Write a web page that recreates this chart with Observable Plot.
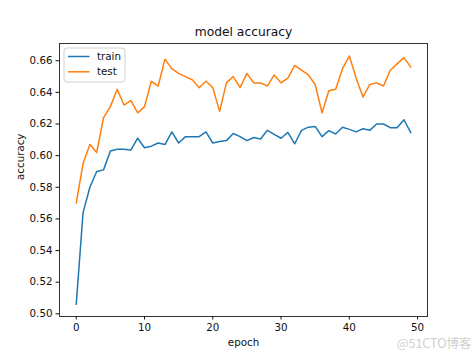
<!DOCTYPE html>
<html><head><meta charset="utf-8">
<script src="https://cdn.jsdelivr.net/npm/d3@7"></script>
<script src="https://cdn.jsdelivr.net/npm/@observablehq/plot@0.6"></script>
<style>
body{margin:0;background:#fff;}
#chart{width:474px;height:355px;}
</style></head><body><div id="chart"></div>
<script>
const epochs = [0,1,2,3,4,5,6,7,8,9,10,11,12,13,14,15,16,17,18,19,20,21,22,23,24,25,26,27,28,29,30,31,32,33,34,35,36,37,38,39,40,41,42,43,44,45,46,47,48,49];
const trainAcc = [0.506,0.564,0.580,0.590,0.591,0.603,0.604,0.604,0.6035,0.611,0.605,0.606,0.608,0.607,0.615,0.608,0.612,0.612,0.612,0.615,0.608,0.609,0.6095,0.614,0.612,0.6095,0.6115,0.6105,0.616,0.6135,0.611,0.6147,0.6075,0.616,0.618,0.6185,0.612,0.6158,0.6137,0.618,0.6166,0.615,0.617,0.616,0.620,0.620,0.6177,0.6177,0.6227,0.6145];
const testAcc = [0.570,0.595,0.607,0.602,0.624,0.631,0.642,0.632,0.635,0.627,0.631,0.647,0.644,0.661,0.655,0.652,0.650,0.648,0.643,0.647,0.643,0.628,0.646,0.650,0.643,0.652,0.646,0.646,0.644,0.651,0.646,0.649,0.657,0.654,0.651,0.645,0.627,0.641,0.642,0.655,0.663,0.649,0.637,0.645,0.646,0.644,0.654,0.658,0.662,0.656];
const seriesNames = ["train", "test"];
const seriesColors = ["#1f77b4", "#ff7f0e"];
const xTicks = [0,10,20,30,40,50];
const yTicks = [0.50,0.52,0.54,0.56,0.58,0.60,0.62,0.64,0.66];
const titleText = "model accuracy";
const xLabel = "epoch";
const yLabel = "accuracy";
const watermark = "@51CTO博客";

const data = epochs.flatMap((e, i) => [
  {epoch: e, acc: trainAcc[i], series: seriesNames[0]},
  {epoch: e, acc: testAcc[i], series: seriesNames[1]}
]);

const W = 474, H = 355, mL = 59, mR = 47, mT = 43, mB = 39;
const fontFam = "DejaVu Sans, sans-serif";

const plot = Plot.plot({
  width: W, height: H,
  marginLeft: mL, marginRight: mR, marginTop: mT, marginBottom: mB,
  style: {fontFamily: fontFam, fontSize: "10.3px", color: "#111", background: "#fff"},
  x: {domain: [-2.45, 51.45]},
  y: {domain: [0.4983, 0.6709]},
  color: {domain: seriesNames, range: seriesColors},
  marks: [
    Plot.line(data, {x: "epoch", y: "acc", stroke: "series", z: "series", strokeWidth: 1.5}),
    Plot.frame({stroke: "#333", strokeWidth: 1}),
    Plot.axisX({ticks: xTicks, tickSize: 3.5, tickPadding: 3.5, label: null}),
    Plot.axisY({ticks: yTicks, tickFormat: ".2f", tickSize: 3.5, tickPadding: 3.5, label: null}),
    Plot.text([titleText], {frameAnchor: "top", dy: -11, fontSize: 12.3, lineAnchor: "middle"}),
    Plot.text([xLabel], {frameAnchor: "bottom", dy: 26, lineAnchor: "middle"}),
    Plot.text([yLabel], {frameAnchor: "left", dx: -39, rotate: -90, lineAnchor: "middle"}),
    Plot.text([watermark], {frameAnchor: "bottom-right", dx: 44, dy: 27.5, textAnchor: "end", lineAnchor: "middle", fill: "#cfcfcf", fontSize: 12.5, fontFamily: "Noto Sans CJK SC, DejaVu Sans, sans-serif"})
  ]
});

// legend (upper left, matplotlib style)
const svg = d3.select(plot);
const lg = svg.append("g").attr("transform", `translate(${mL + 5},${mT + 5})`);
lg.append("rect").attr("x", 0).attr("y", 0).attr("width", 61).attr("height", 34)
  .attr("rx", 3).attr("fill", "#fff").attr("fill-opacity", 0.8).attr("stroke", "#d0d0d0");
seriesNames.forEach((name, i) => {
  const yy = 8.5 + i * 15.3;
  lg.append("line").attr("x1", 4).attr("x2", 25.5).attr("y1", yy).attr("y2", yy)
    .attr("stroke", seriesColors[i]).attr("stroke-width", 1.5);
  lg.append("text").attr("x", 33).attr("y", yy).attr("dy", "0.35em")
    .attr("text-anchor", "start")
    .attr("font-family", fontFam).attr("font-size", "10.3px").attr("fill", "#111").text(name);
});

document.getElementById("chart").appendChild(plot);
</script></body></html>
